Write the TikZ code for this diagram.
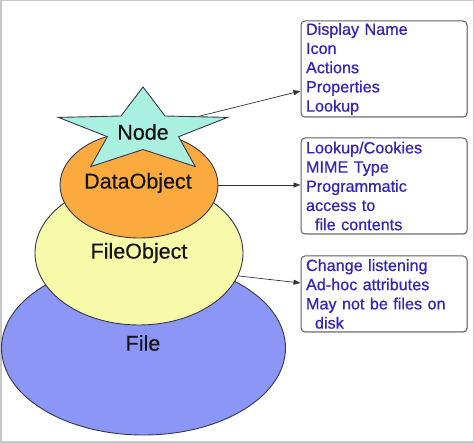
\documentclass[tikz,border=0pt]{standalone}
\usepackage{fontspec}
\setmainfont{Liberation Sans}
\newfontfamily\semibold[FakeBold=0.7]{Liberation Sans}
\newfontfamily\labelbold[FakeBold=0.4]{Liberation Sans}
\usetikzlibrary{shapes.geometric,arrows.meta,shadows}
\definecolor{fileblue}{RGB}{140,150,246}
\definecolor{fileobjyellow}{RGB}{247,250,168}
\definecolor{dataorange}{RGB}{250,170,62}
\definecolor{starcyan}{RGB}{170,240,224}
\definecolor{outlinec}{RGB}{55,55,75}
\definecolor{boxtext}{RGB}{52,36,190}
\definecolor{boxline}{RGB}{95,95,100}
\tikzset{
  layer/.style={ellipse, draw=outlinec, line width=0.9pt, inner sep=0pt},
  maintext/.style={font=\labelbold\fontsize{21.5}{24}\selectfont, text=black!92},
  infobox/.style={draw=boxline, line width=1pt, rounded corners=4pt, fill=white,
    drop shadow={shadow xshift=0.8pt, shadow yshift=-0.8pt, opacity=0.35},
    text width=156pt, inner xsep=5pt, inner ysep=0pt, minimum height=96pt,
    align=left, text=boxtext, font=\semibold\fontsize{16.2}{19.2}\selectfont},
  conn/.style={draw=black!80, line width=0.7pt, -{Triangle[length=7pt,width=5pt]}}
}
\begin{document}
\begin{tikzpicture}[x=1pt,y=-1pt]
\useasboundingbox (0,0) rectangle (474,443);
\draw[black!22, line width=1.5pt] (0.75,0.75) rectangle (473.25,442.25);
% layers
\node[layer, fill=fileblue, minimum width=284pt, minimum height=174pt] (file) at (143.5,348) {};
\node[layer, fill=fileobjyellow, minimum width=208pt, minimum height=144pt] (fileobj) at (139,253) {};
\node[layer, fill=dataorange, minimum width=158pt, minimum height=106pt] (dataobj) at (139,185) {};
% star
\draw[draw=outlinec, line width=0.9pt, fill=starcyan, line join=miter]
  (143,87) -- (165.0,116.0) -- (227.6,117.4) -- (178.6,136.7) -- (195.3,166.6)
  -- (143,149.5) -- (90.7,166.6) -- (107.4,136.7) -- (58.4,117.4) -- (121.0,116.0) -- cycle;
\coordinate (starR) at (198,116.5);
% labels
\node[maintext] (nodelbl) at (143,132) {Node};
\node[maintext] (datalbl) at (138,183) {DataObject};
\node[maintext] (fileobjlbl) at (139,253) {FileObject};
\node[maintext] (filelbl) at (143,343) {File};
% boxes
\node[infobox] (box1) at (384,69) {Display Name\\Icon\\Actions\\Properties\\Lookup};
\node[infobox] (box2) at (384,186) {Lookup/Cookies\\MIME Type\\Programmatic\\access to\\\hspace*{9pt}file contents};
\node[infobox, minimum height=76pt] (box3) at (384,294) {Change listening\\Ad-hoc attributes\\May not be files on\\\hspace*{9pt}disk};
% connectors
\draw[conn] (starR) -- ([yshift=-22pt]box1.west);
\draw[conn] (dataobj.east) -- (dataobj.east -| box2.west);
\draw[conn] (fileobj.-13) -- ([yshift=11pt]box3.west);
\end{tikzpicture}
\end{document}
